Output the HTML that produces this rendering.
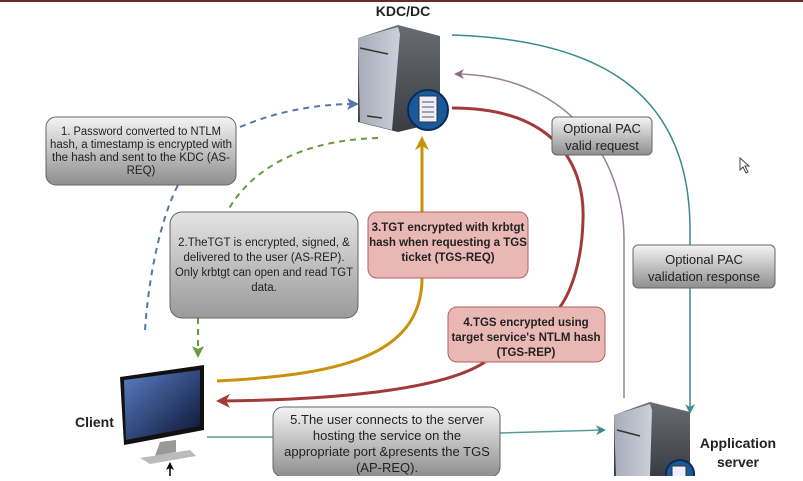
<!DOCTYPE html>
<html><head><meta charset="utf-8"><style>
body{margin:0;width:803px;height:476px;overflow:hidden;background:#fff;font-family:"Liberation Sans",sans-serif}
</style></head><body>
<svg width="803" height="476" viewBox="0 0 803 476" xmlns="http://www.w3.org/2000/svg" font-family="Liberation Sans, sans-serif">
<defs>
<linearGradient id="g" x1="0" y1="0" x2="0" y2="1"><stop offset="0" stop-color="#f4f4f4"/><stop offset="1" stop-color="#8e8e8e"/></linearGradient>
<linearGradient id="g2" x1="0" y1="0" x2="0" y2="1"><stop offset="0" stop-color="#e4e4e4"/><stop offset="1" stop-color="#9a9a9a"/></linearGradient>
<linearGradient id="sf" x1="0" y1="0" x2="1" y2="0"><stop offset="0" stop-color="#a8acb8"/><stop offset="1" stop-color="#ccd0da"/></linearGradient>
<linearGradient id="sr" x1="0" y1="0" x2="0" y2="1"><stop offset="0" stop-color="#6a6c74"/><stop offset="1" stop-color="#3a3c44"/></linearGradient>
<linearGradient id="scr" x1="0" y1="0" x2="1" y2="1"><stop offset="0" stop-color="#5a7fc8"/><stop offset="1" stop-color="#0a1430"/></linearGradient>
<marker id="a" markerWidth="8" markerHeight="8" refX="6" refY="4" orient="auto" markerUnits="userSpaceOnUse"><path d="M0,0 L8,4 L0,8 L2,4z" fill="#000"/></marker>
<marker id="ab" markerWidth="12" markerHeight="12" refX="9" refY="6" orient="auto" markerUnits="userSpaceOnUse"><path d="M0,0 L12,6 L0,12 L3,6z" fill="#5577aa"/></marker>
<marker id="ag" markerWidth="12" markerHeight="12" refX="9" refY="6" orient="auto" markerUnits="userSpaceOnUse"><path d="M0,0 L12,6 L0,12 L3,6z" fill="#6a9a40"/></marker>
<marker id="ao" markerWidth="14" markerHeight="14" refX="10" refY="7" orient="auto" markerUnits="userSpaceOnUse"><path d="M0,0 L14,7 L0,14 L4,7z" fill="#c8930a"/></marker>
<marker id="ar" markerWidth="14" markerHeight="14" refX="10" refY="7" orient="auto" markerUnits="userSpaceOnUse"><path d="M0,0 L14,7 L0,14 L4,7z" fill="#a33a3a"/></marker>
<marker id="ap" markerWidth="10" markerHeight="10" refX="8" refY="5" orient="auto" markerUnits="userSpaceOnUse"><path d="M0,0 L10,5 L0,10 L3,5z" fill="#8a6a8a"/></marker>
<marker id="at" markerWidth="10" markerHeight="10" refX="8" refY="5" orient="auto" markerUnits="userSpaceOnUse"><path d="M0,0 L10,5 L0,10 L3,5z" fill="#3a8a8a"/></marker>
</defs>
<rect x="0" y="0" width="803" height="2" fill="#6a2a2a"/>

<path d="M145,330 C150,260 165,210 178,185" stroke="#5577aa" stroke-width="2" stroke-dasharray="6,5" fill="none"/>
<path d="M240,127 C280,110 320,104 356,104" stroke="#5577aa" stroke-width="2" stroke-dasharray="6,5" fill="none" marker-end="url(#ab)"/>
<path d="M378,138 C300,140 250,170 227,212" stroke="#6a9a40" stroke-width="2" stroke-dasharray="6,5" fill="none"/>
<path d="M198,318 L198,355" stroke="#6a9a40" stroke-width="2" stroke-dasharray="6,5" fill="none" marker-end="url(#ag)"/>
<path d="M217,381 C330,375 422,360 422,278 L422,140" stroke="#c8930a" stroke-width="3" fill="none" marker-end="url(#ao)"/>
<path d="M452,108 C560,108 585,170 583,220 C582,260 572,290 560,307" stroke="#a33a3a" stroke-width="3" fill="none"/>
<path d="M485,362 C440,392 320,400 220,401" stroke="#a33a3a" stroke-width="3" fill="none" marker-end="url(#ar)"/>
<path d="M624,398 L624,240 C624,150 560,75 456,74" stroke="#9a809a" stroke-width="1.5" fill="none" marker-end="url(#ap)"/>
<path d="M452,35 C610,40 690,100 690,230 L690,412" stroke="#3a8a8a" stroke-width="1.5" fill="none" marker-end="url(#at)"/>
<path d="M207,437 L273,437" stroke="#5a9a9a" stroke-width="1.5"/>
<path d="M500,433 L604,430" stroke="#5a9a9a" stroke-width="1.5" fill="none" marker-end="url(#at)"/>
<path d="M170,476 L170,464" stroke="#000" stroke-width="1.5" marker-end="url(#a)"/>

<text x="403" y="16" font-size="14" font-weight="bold" fill="#222" text-anchor="middle">KDC/DC</text>
<path d="M358,38 L398,25 L440,36 L440,122 L398,132 L358,122z" fill="url(#sr)"/>
<path d="M358,38 L398,27 L400,34 L392,130 L360,122z" fill="url(#sf)"/>
<path d="M360,48 L388,54" stroke="#333" stroke-width="1.5"/><path d="M367,116 L382,118" stroke="#333" stroke-width="1.5"/>
<circle cx="428" cy="110" r="20" fill="#1a5a9a" stroke="#0a2a5a" stroke-width="2"/>
<rect x="419" y="96" width="18" height="26" fill="#eef" stroke="#333"/>
<path d="M422,102h12M422,107h12M422,112h12M422,117h12" stroke="#555"/>

<rect x="46" y="117" width="190" height="68" rx="10" fill="url(#g)" stroke="#666"/>
<g font-size="11.5" fill="#222" text-anchor="middle"><text x="141" y="135" textLength="160" lengthAdjust="spacingAndGlyphs">1. Password converted to NTLM</text><text x="141" y="148" textLength="182" lengthAdjust="spacingAndGlyphs">hash, a timestamp is encrypted with</text><text x="141" y="161" textLength="178" lengthAdjust="spacingAndGlyphs">the hash and sent to the KDC (AS-</text><text x="141" y="174">REQ)</text></g>
<rect x="170" y="212" width="188" height="106" rx="12" fill="url(#g2)" stroke="#666"/>
<g font-size="11.5" fill="#222" text-anchor="middle"><text x="264" y="246">2.TheTGT is encrypted, signed, &amp;</text><text x="264" y="261">delivered to the user (AS-REP).</text><text x="264" y="276" textLength="178" lengthAdjust="spacingAndGlyphs">Only krbtgt can open and read TGT</text><text x="264" y="291">data.</text></g>
<rect x="368" y="212" width="160" height="66" rx="9" fill="#eab8b4" stroke="#b06060"/>
<g font-size="11.5" font-weight="bold" fill="#222" text-anchor="middle"><text x="448" y="231">3.TGT encrypted with krbtgt</text><text x="448" y="246">hash when requesting a TGS</text><text x="448" y="261">ticket (TGS-REQ)</text></g>
<rect x="448" y="307" width="157" height="55" rx="9" fill="#eab8b4" stroke="#b06060"/>
<g font-size="11.5" font-weight="bold" fill="#222" text-anchor="middle"><text x="526" y="326">4.TGS encrypted using</text><text x="526" y="341">target service's NTLM hash</text><text x="526" y="356">(TGS-REP)</text></g>
<rect x="273" y="407" width="227" height="70" rx="10" fill="url(#g)" stroke="#666"/>
<g font-size="13" fill="#222" text-anchor="middle"><text x="387" y="424">5.The user connects to the server</text><text x="387" y="440">hosting the service on the</text><text x="387" y="456">appropriate port &amp;presents the TGS</text><text x="387" y="472">(AP-REQ).</text></g>
<rect x="552" y="117" width="100" height="38" rx="5" fill="url(#g)" stroke="#666"/>
<g font-size="13" fill="#222" text-anchor="middle"><text x="602" y="133">Optional PAC</text><text x="602" y="150">valid request</text></g>
<rect x="633" y="245" width="142" height="43" rx="5" fill="url(#g)" stroke="#666"/>
<g font-size="13" fill="#222" text-anchor="middle"><text x="704" y="264">Optional PAC</text><text x="704" y="281">validation response</text></g>

<path d="M120,377 L204,365 L204,430 L124,445z" fill="#111"/>
<path d="M124,380 L200,370 L200,426 L126,440z" fill="url(#scr)"/>
<path d="M160,442 L176,440 L176,452 L155,456z" fill="#999"/>
<path d="M140,458 L190,450 L196,456 L150,464z" fill="#bbb"/>
<text x="75" y="427" font-size="14" font-weight="bold" fill="#222">Client</text>

<path d="M614,415 L650,402 L690,412 L690,476 L614,476z" fill="url(#sr)"/>
<path d="M614,415 L650,404 L652,410 L650,476 L616,476z" fill="url(#sf)"/>
<path d="M617,430 L640,436" stroke="#333" stroke-width="1.5"/>
<circle cx="680" cy="474" r="14" fill="#1a5a9a" stroke="#0a2a5a" stroke-width="2"/>
<rect x="672" y="466" width="14" height="12" fill="#eef" stroke="#333"/>
<g font-size="14" font-weight="bold" fill="#222" text-anchor="middle"><text x="738" y="448">Application</text><text x="738" y="467">server</text></g>
<path d="M740,158 L740,170 L743,167 L746,173 L748,172 L745,166 L749,166z" fill="#fff" stroke="#444"/>
</svg>
</body></html>
